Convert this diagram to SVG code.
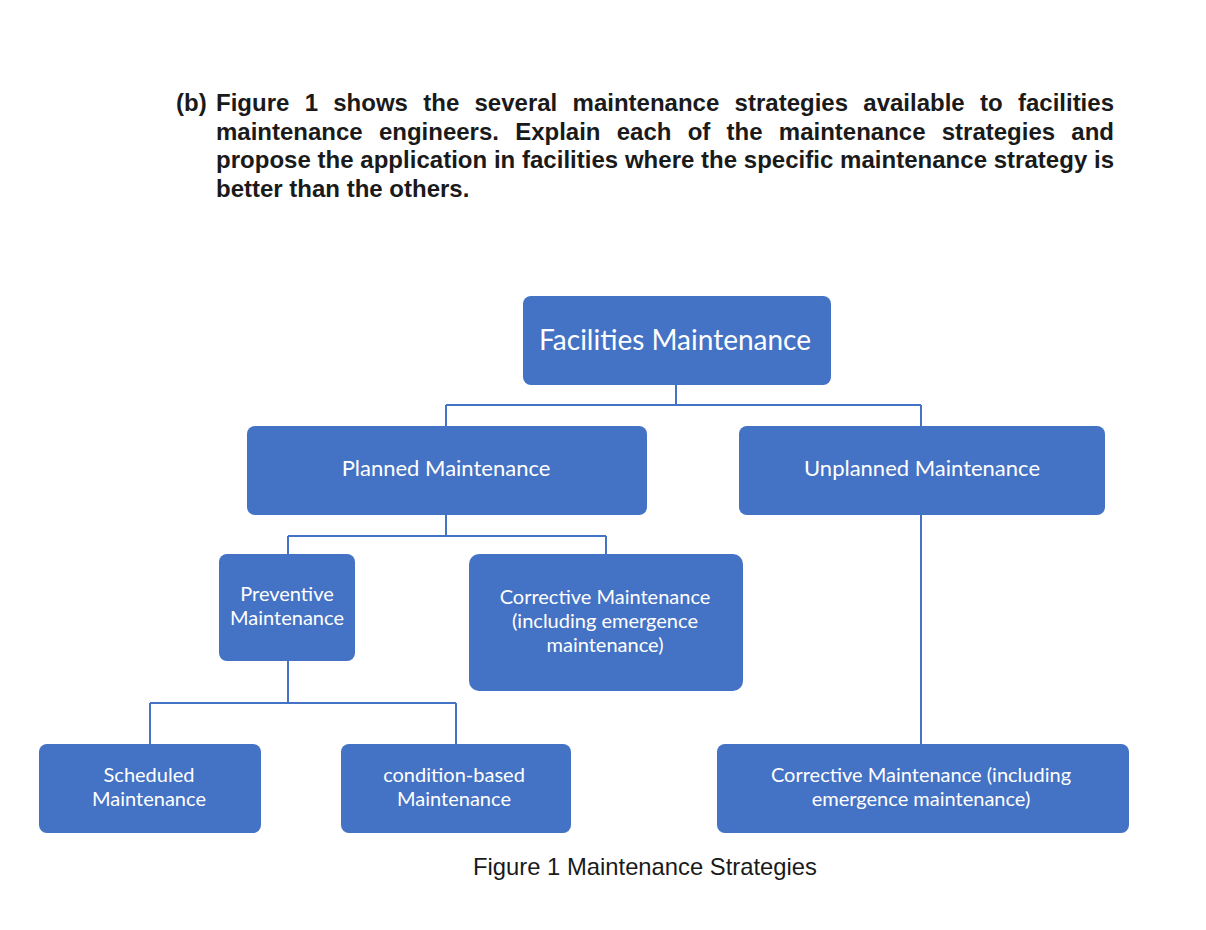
<svg xmlns="http://www.w3.org/2000/svg" width="1206" height="930" viewBox="0 0 1206 930">
<style>
.box{fill:#4472C4;}
.t{font-family:"Lato","Open Sans","Liberation Sans",sans-serif;fill:#FFFFFF;text-anchor:middle;}
.big{font-size:28px;}
.mid{font-size:22px;}
.sm{font-size:20px;}
.conn{fill:none;stroke:#4472C4;stroke-width:2;}
.hd{font-family:"Liberation Sans",Arial,sans-serif;font-weight:bold;font-size:24px;fill:#1a1a1a;}
.cap{font-family:"Liberation Sans",Arial,sans-serif;font-size:23.8px;fill:#1a1a1a;}
</style>
<rect width="1206" height="930" fill="#FFFFFF"/>
<g id="question">
<text class="hd" x="176" y="111">(b)</text>
<text class="hd" x="216" y="111" word-spacing="8.6" textLength="898" lengthAdjust="spacing">Figure 1 shows the several maintenance strategies available to facilities</text>
<text class="hd" x="216" y="140" word-spacing="9.6" textLength="898" lengthAdjust="spacing">maintenance engineers. Explain each of the maintenance strategies and</text>
<text class="hd" x="216" y="168" textLength="898" lengthAdjust="spacing">propose the application in facilities where the specific maintenance strategy is</text>
<text class="hd" x="216" y="197">better than the others.</text>
</g>
<g id="connectors">
<path class="conn" d="M676,385 V405 M446,405 H921 M446,405 V426 M921,405 V426"/>
<path class="conn" d="M446,515 V536 M288,536 H606 M288,536 V554 M606,536 V554"/>
<path class="conn" d="M288,661 V703 M150,703 H456 M150,703 V744 M456,703 V744"/>
<path class="conn" d="M921,515 V744"/>
</g>
<g id="facilities">
<rect class="box" x="523" y="296" width="308" height="89" rx="8"/>
<text class="t big" x="675" y="350">Facilities Maintenance</text>
</g>
<g id="planned">
<rect class="box" x="247" y="426" width="400" height="89" rx="8"/>
<text class="t mid" x="446" y="476">Planned Maintenance</text>
</g>
<g id="unplanned">
<rect class="box" x="739" y="426" width="366" height="89" rx="8"/>
<text class="t mid" x="922" y="476">Unplanned Maintenance</text>
</g>
<g id="preventive">
<rect class="box" x="219" y="554" width="136" height="107" rx="8"/>
<text class="t sm" x="287" y="601">Preventive</text>
<text class="t sm" x="287" y="625">Maintenance</text>
</g>
<g id="corrective1">
<rect class="box" x="469" y="554" width="274" height="137" rx="10"/>
<text class="t sm" x="605" y="604">Corrective Maintenance</text>
<text class="t sm" x="605" y="628">(including emergence</text>
<text class="t sm" x="605" y="652">maintenance)</text>
</g>
<g id="scheduled">
<rect class="box" x="39" y="744" width="222" height="89" rx="8"/>
<text class="t sm" x="149" y="782">Scheduled</text>
<text class="t sm" x="149" y="806">Maintenance</text>
</g>
<g id="condition">
<rect class="box" x="341" y="744" width="230" height="89" rx="8"/>
<text class="t sm" x="454" y="782">condition-based</text>
<text class="t sm" x="454" y="806">Maintenance</text>
</g>
<g id="corrective2">
<rect class="box" x="717" y="744" width="412" height="89" rx="8"/>
<text class="t sm" x="921" y="782">Corrective Maintenance (including</text>
<text class="t sm" x="921" y="806">emergence maintenance)</text>
</g>
<text class="cap" x="645" y="875" text-anchor="middle">Figure 1 Maintenance Strategies</text>
</svg>
